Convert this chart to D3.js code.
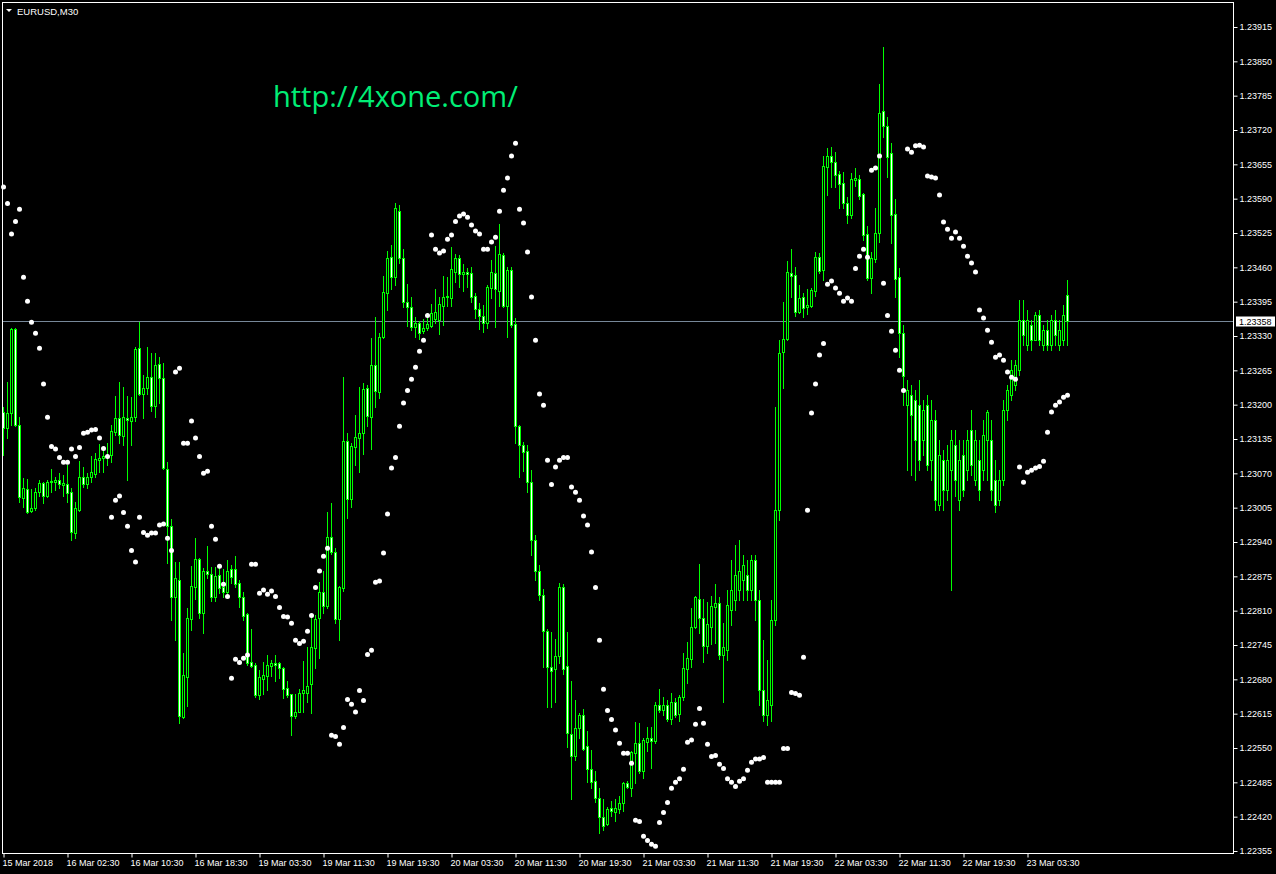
<!DOCTYPE html>
<html>
<head>
<meta charset="utf-8">
<script src="https://cdn.jsdelivr.net/npm/d3@7"></script>
<style>
  html, body { margin: 0; padding: 0; background: #000; }
  svg { display: block; }
</style>
</head>
<body>
<div id="wrapper"></div>
<script>
// EURUSD M30, one value per bar (bar 0 = 15 Mar 2018)
const open = [
  1.23186,1.23155,1.23184,1.23343,1.23161,1.23023,1.23040,1.22998,1.23004,1.23034,
  1.23051,1.23028,1.23053,1.23053,1.23057,1.23047,1.23049,1.23034,1.22957,1.23000,
  1.23063,1.23049,1.23063,1.23068,1.23095,1.23099,1.23100,1.23104,1.23148,1.23174,
  1.23140,1.23174,1.23169,1.23176,1.23307,1.23220,1.23231,1.23252,1.23197,1.23277,
  1.23250,1.23078,1.22970,1.22835,1.22868,1.22608,1.22684,1.22794,1.22854,1.22907,
  1.22805,1.22885,1.22879,1.22835,1.22877,1.22854,1.22845,1.22888,1.22888,1.22862,
  1.22835,1.22803,1.22712,1.22708,1.22650,1.22680,1.22686,1.22705,1.22710,1.22710,
  1.22701,1.22663,1.22652,1.22610,1.22619,1.22655,1.22655,1.22671,1.22739,1.22796,
  1.22845,1.22818,1.22949,1.22921,1.22794,1.22852,1.23131,1.23021,1.23119,1.23137,
  1.23146,1.23231,1.23176,1.23275,1.23224,1.23328,1.23411,1.23479,1.23441,1.23566,
  1.23477,1.23394,1.23385,1.23347,1.23354,1.23339,1.23345,1.23349,1.23362,1.23360,
  1.23387,1.23404,1.23402,1.23451,1.23477,1.23447,1.23451,1.23449,1.23405,1.23381,
  1.23368,1.23354,1.23421,1.23449,1.23415,1.23483,1.23387,1.23455,1.23352,1.23159,
  1.23123,1.23112,1.23053,1.22943,1.22886,1.22839,1.22771,1.22703,1.22699,1.22724,
  1.22854,1.22705,1.22576,1.22534,1.22587,1.22612,1.22553,1.22510,1.22487,1.22455,
  1.22419,1.22407,1.22436,1.22428,1.22434,1.22445,1.22483,1.22475,1.22540,1.22559,
  1.22506,1.22561,1.22568,1.22563,1.22631,1.22621,1.22631,1.22604,1.22638,1.22614,
  1.22646,1.22699,1.22718,1.22779,1.22833,1.22796,1.22744,1.22779,1.22816,1.22824,
  1.22726,1.22735,1.22811,1.22830,1.22849,1.22868,1.22877,1.22849,1.22905,1.22830,
  1.22659,1.22612,1.22631,1.22792,1.23000,1.23299,1.23324,1.23449,1.23445,1.23375,
  1.23404,1.23385,1.23387,1.23415,1.23479,1.23455,1.23650,1.23671,1.23659,1.23636,
  1.23619,1.23581,1.23559,1.23625,1.23627,1.23599,1.23523,1.23440,1.23476,1.23525,
  1.23756,1.23727,1.23676,1.23561,1.23441,1.23335,1.23199,1.23218,1.23208,1.23199,
  1.23133,1.23199,1.23095,1.23171,1.23010,1.23095,1.23038,1.23076,1.23123,1.23019,
  1.23104,1.23076,1.23152,1.23057,1.23095,1.23076,1.23133,1.23133,1.23057,1.23019,
  1.23057,1.23190,1.23218,1.23237,1.23265,1.23360,1.23313,1.23351,1.23322,1.23369,
  1.23313,1.23341,1.23313,1.23360,1.23313,1.23322,1.23407
]
const high = [
  1.23195,1.23243,1.23345,1.23345,1.23176,1.23061,1.23059,1.23040,1.23042,1.23057,
  1.23053,1.23057,1.23078,1.23064,1.23070,1.23066,1.23085,1.23042,1.23015,1.23093,
  1.23082,1.23070,1.23102,1.23108,1.23125,1.23114,1.23127,1.23161,1.23216,1.23243,
  1.23233,1.23216,1.23214,1.23309,1.23356,1.23256,1.23309,1.23297,1.23297,1.23290,
  1.23278,1.23091,1.22983,1.22902,1.22902,1.22729,1.22815,1.22894,1.22947,1.22909,
  1.22890,1.22932,1.22892,1.22892,1.22894,1.22888,1.22905,1.22896,1.22913,1.22869,
  1.22845,1.22805,1.22775,1.22710,1.22697,1.22712,1.22726,1.22716,1.22727,1.22712,
  1.22703,1.22676,1.22653,1.22653,1.22661,1.22714,1.22741,1.22796,1.22801,1.22864,
  1.22886,1.22996,1.23013,1.22928,1.22856,1.23252,1.23146,1.23127,1.23180,1.23233,
  1.23241,1.23237,1.23326,1.23366,1.23335,1.23443,1.23491,1.23502,1.23581,1.23578,
  1.23494,1.23428,1.23404,1.23366,1.23358,1.23362,1.23373,1.23390,1.23419,1.23404,
  1.23443,1.23441,1.23498,1.23485,1.23483,1.23466,1.23458,1.23460,1.23411,1.23392,
  1.23388,1.23426,1.23474,1.23500,1.23542,1.23487,1.23460,1.23460,1.23364,1.23161,
  1.23129,1.23123,1.23076,1.22953,1.22896,1.22851,1.22775,1.22769,1.22756,1.22862,
  1.22860,1.22769,1.22676,1.22640,1.22616,1.22623,1.22582,1.22547,1.22506,1.22475,
  1.22453,1.22438,1.22449,1.22453,1.22459,1.22485,1.22487,1.22544,1.22599,1.22597,
  1.22568,1.22589,1.22589,1.22637,1.22661,1.22646,1.22640,1.22655,1.22644,1.22650,
  1.22729,1.22750,1.22815,1.22837,1.22898,1.22833,1.22826,1.22837,1.22860,1.22835,
  1.22786,1.22849,1.22905,1.22934,1.22943,1.22915,1.22905,1.22915,1.22915,1.22849,
  1.22754,1.22716,1.22830,1.23195,1.23322,1.23394,1.23472,1.23494,1.23460,1.23426,
  1.23411,1.23419,1.23421,1.23489,1.23487,1.23671,1.23686,1.23688,1.23678,1.23642,
  1.23640,1.23593,1.23638,1.23648,1.23635,1.23600,1.23538,1.23489,1.23572,1.23807,
  1.23877,1.23744,1.23695,1.23589,1.23458,1.23351,1.23246,1.23237,1.23227,1.23246,
  1.23208,1.23218,1.23208,1.23190,1.23133,1.23114,1.23123,1.23152,1.23152,1.23133,
  1.23133,1.23152,1.23190,1.23152,1.23133,1.23171,1.23190,1.23171,1.23095,1.23076,
  1.23208,1.23237,1.23284,1.23284,1.23398,1.23398,1.23379,1.23360,1.23375,1.23379,
  1.23351,1.23360,1.23369,1.23379,1.23360,1.23388,1.23436
]
const low = [
  1.23104,1.23137,1.23161,1.23159,1.23015,1.23006,1.22994,1.22996,1.23000,1.23028,
  1.23013,1.23025,1.23034,1.23038,1.23042,1.23027,1.23015,1.22943,1.22947,1.22998,
  1.23044,1.23042,1.23053,1.23064,1.23072,1.23072,1.23085,1.23091,1.23142,1.23127,
  1.23123,1.23057,1.23123,1.23169,1.23218,1.23174,1.23220,1.23188,1.23176,1.23203,
  1.23078,1.22900,1.22792,1.22754,1.22597,1.22606,1.22629,1.22773,1.22833,1.22796,
  1.22767,1.22871,1.22828,1.22828,1.22843,1.22835,1.22843,1.22862,1.22854,1.22816,
  1.22792,1.22707,1.22703,1.22646,1.22642,1.22653,1.22659,1.22686,1.22676,1.22682,
  1.22644,1.22646,1.22574,1.22606,1.22618,1.22619,1.22637,1.22616,1.22701,1.22720,
  1.22805,1.22815,1.22917,1.22786,1.22754,1.22847,1.22985,1.23006,1.23085,1.23072,
  1.23106,1.23159,1.23117,1.23195,1.23212,1.23326,1.23379,1.23419,1.23426,1.23468,
  1.23385,1.23349,1.23341,1.23328,1.23324,1.23335,1.23341,1.23347,1.23354,1.23333,
  1.23351,1.23387,1.23387,1.23432,1.23422,1.23415,1.23422,1.23394,1.23364,1.23343,
  1.23337,1.23345,1.23402,1.23347,1.23387,1.23385,1.23328,1.23347,1.23127,1.23064,
  1.23074,1.23034,1.22915,1.22868,1.22830,1.22703,1.22627,1.22627,1.22637,1.22710,
  1.22691,1.22551,1.22453,1.22527,1.22568,1.22547,1.22485,1.22475,1.22447,1.22390,
  1.22394,1.22405,1.22421,1.22411,1.22426,1.22430,1.22475,1.22459,1.22483,1.22502,
  1.22494,1.22544,1.22513,1.22559,1.22618,1.22612,1.22602,1.22595,1.22608,1.22602,
  1.22640,1.22674,1.22703,1.22777,1.22767,1.22712,1.22729,1.22746,1.22748,1.22718,
  1.22638,1.22716,1.22782,1.22811,1.22830,1.22830,1.22830,1.22830,1.22792,1.22631,
  1.22602,1.22593,1.22602,1.22782,1.22981,1.23231,1.23322,1.23404,1.23368,1.23373,
  1.23366,1.23371,1.23385,1.23405,1.23449,1.23436,1.23597,1.23612,1.23612,1.23572,
  1.23572,1.23544,1.23553,1.23614,1.23589,1.23512,1.23436,1.23411,1.23470,1.23508,
  1.23706,1.23631,1.23506,1.23404,1.23290,1.23199,1.23076,1.23066,1.23057,1.23076,
  1.23104,1.23076,1.23057,1.23000,1.23000,1.23000,1.23019,1.22849,1.23028,1.23000,
  1.23028,1.23057,1.23066,1.23047,1.23019,1.23057,1.23057,1.23019,1.22996,1.23010,
  1.23047,1.23171,1.23208,1.23227,1.23256,1.23313,1.23303,1.23303,1.23322,1.23313,
  1.23303,1.23303,1.23303,1.23313,1.23303,1.23313,1.23313
]
const close = [
  1.23155,1.23184,1.23343,1.23161,1.23025,1.23042,1.22996,1.23004,1.23034,1.23051,
  1.23028,1.23053,1.23055,1.23057,1.23049,1.23051,1.23032,1.22958,1.23004,1.23063,
  1.23049,1.23063,1.23072,1.23097,1.23099,1.23102,1.23104,1.23150,1.23174,1.23142,
  1.23176,1.23171,1.23176,1.23305,1.23220,1.23231,1.23252,1.23197,1.23275,1.23250,
  1.23080,1.22970,1.22835,1.22871,1.22610,1.22688,1.22796,1.22856,1.22907,1.22805,
  1.22886,1.22879,1.22835,1.22875,1.22852,1.22845,1.22885,1.22873,1.22860,1.22835,
  1.22799,1.22710,1.22705,1.22650,1.22684,1.22688,1.22707,1.22710,1.22708,1.22701,
  1.22661,1.22650,1.22610,1.22619,1.22655,1.22659,1.22667,1.22741,1.22794,1.22845,
  1.22818,1.22949,1.22921,1.22794,1.22854,1.23131,1.23021,1.23121,1.23138,1.23146,
  1.23229,1.23178,1.23275,1.23226,1.23328,1.23413,1.23477,1.23441,1.23572,1.23477,
  1.23394,1.23385,1.23347,1.23354,1.23335,1.23345,1.23352,1.23373,1.23375,1.23390,
  1.23404,1.23405,1.23457,1.23477,1.23447,1.23451,1.23447,1.23404,1.23381,1.23368,
  1.23354,1.23422,1.23451,1.23419,1.23485,1.23387,1.23455,1.23351,1.23159,1.23123,
  1.23110,1.23053,1.22943,1.22886,1.22839,1.22771,1.22703,1.22695,1.22724,1.22854,
  1.22699,1.22578,1.22534,1.22587,1.22612,1.22549,1.22510,1.22485,1.22455,1.22419,
  1.22402,1.22434,1.22430,1.22436,1.22445,1.22483,1.22477,1.22542,1.22559,1.22506,
  1.22566,1.22568,1.22563,1.22631,1.22621,1.22631,1.22604,1.22637,1.22612,1.22646,
  1.22701,1.22720,1.22780,1.22835,1.22796,1.22744,1.22784,1.22818,1.22824,1.22726,
  1.22741,1.22820,1.22849,1.22877,1.22886,1.22896,1.22849,1.22905,1.22830,1.22659,
  1.22612,1.22640,1.22792,1.23000,1.23297,1.23324,1.23451,1.23443,1.23375,1.23402,
  1.23383,1.23388,1.23417,1.23479,1.23453,1.23652,1.23671,1.23659,1.23635,1.23618,
  1.23581,1.23559,1.23627,1.23629,1.23595,1.23521,1.23440,1.23477,1.23525,1.23752,
  1.23727,1.23669,1.23559,1.23438,1.23335,1.23254,1.23227,1.23180,1.23133,1.23095,
  1.23190,1.23085,1.23171,1.23019,1.23104,1.23038,1.23095,1.23133,1.23057,1.23095,
  1.23038,1.23133,1.23085,1.23133,1.23038,1.23142,1.23186,1.23038,1.23010,1.23057,
  1.23190,1.23227,1.23265,1.23275,1.23360,1.23332,1.23360,1.23322,1.23369,1.23322,
  1.23341,1.23313,1.23360,1.23332,1.23341,1.23369,1.23358
]
// Parabolic SAR dots
const sar = [
  1.23612,1.23581,1.23523,1.23547,1.23570,1.23441,1.23396,1.23356,1.23335,1.23307,
  1.23239,1.23176,1.23121,1.23116,1.23100,1.23091,1.23091,1.23116,1.23102,1.23119,
  1.23146,1.23148,1.23152,1.23153,1.23137,1.23117,1.23102,1.22987,1.23019,1.23027,
  1.22996,1.22970,1.22924,1.22902,1.22987,1.22958,1.22953,1.22957,1.22957,1.22972,
  1.22974,1.22947,1.22924,1.23262,1.23269,1.23127,1.23127,1.23169,1.23137,1.23102,
  1.23070,1.23074,1.22970,1.22945,1.22894,1.22860,1.22837,1.22682,1.22718,1.22712,
  1.22720,1.22726,1.22898,1.22898,1.22843,1.22849,1.22841,1.22847,1.22837,1.22816,
  1.22799,1.22798,1.22786,1.22754,1.22748,1.22752,1.22771,1.22801,1.22854,1.22885,
  1.22913,1.22928,1.22574,1.22572,1.22557,1.22589,1.22642,1.22633,1.22618,1.22659,
  1.22640,1.22727,1.22735,1.22864,1.22866,1.22919,1.22993,1.23080,1.23100,1.23159,
  1.23203,1.23227,1.23248,1.23271,1.23301,1.23322,1.23369,1.23521,1.23494,1.23487,
  1.23491,1.23513,1.23521,1.23547,1.23557,1.23561,1.23555,1.23540,1.23529,1.23523,
  1.23494,1.23494,1.23508,1.23517,1.23566,1.23606,1.23629,1.23671,1.23695,1.23570,
  1.23544,1.23489,1.23404,1.23322,1.23220,1.23199,1.23095,1.23049,1.23082,1.23095,
  1.23100,1.23100,1.23044,1.23034,1.23019,1.22989,1.22972,1.22921,1.22854,1.22754,
  1.22661,1.22621,1.22604,1.22584,1.22559,1.22540,1.22540,1.22521,1.22413,1.22411,
  1.22383,1.22375,1.22368,1.22364,1.22409,1.22428,1.22447,1.22474,1.22485,1.22492,
  1.22510,1.22561,1.22565,1.22595,1.22625,1.22597,1.22557,1.22534,1.22536,1.22519,
  1.22511,1.22492,1.22485,1.22477,1.22487,1.22492,1.22508,1.22523,1.22529,1.22529,
  1.22532,1.22485,1.22485,1.22485,1.22485,1.22549,1.22549,1.22655,1.22653,1.22650,
  1.22722,1.23000,1.23184,1.23239,1.23294,1.23316,1.23428,1.23434,1.23421,1.23411,
  1.23396,1.23402,1.23396,1.23458,1.23481,1.23494,1.23479,1.23644,1.23648,1.23671,
  1.23430,1.23369,1.23339,1.23303,1.23265,1.23227,1.23684,1.23678,1.23690,1.23691,
  1.23688,1.23633,1.23631,1.23629,1.23597,1.23546,1.23532,1.23515,1.23527,1.23515,
  1.23500,1.23481,1.23468,1.23451,1.23379,1.23364,1.23341,1.23318,1.23290,1.23294,
  1.23284,1.23262,1.23252,1.23248,1.23082,1.23053,1.23072,1.23076,1.23080,1.23083,
  1.23093,1.23148,1.23186,1.23199,1.23205,1.23214,1.23218
]

const timeLabels = [
  '15 Mar 2018', '16 Mar 02:30', '16 Mar 10:30', '16 Mar 18:30', '19 Mar 03:30',
  '19 Mar 11:30', '19 Mar 19:30', '20 Mar 03:30', '20 Mar 11:30', '20 Mar 19:30',
  '21 Mar 03:30', '21 Mar 11:30', '21 Mar 19:30', '22 Mar 03:30', '22 Mar 11:30',
  '22 Mar 19:30', '23 Mar 03:30'
]
const barsPerLabel = 16
const priceTicks = [
  1.22355, 1.22420, 1.22485, 1.22550, 1.22615, 1.22680, 1.22745, 1.22810, 1.22875,
  1.22940, 1.23005, 1.23070, 1.23135, 1.23200, 1.23265, 1.23330, 1.23395, 1.23460,
  1.23525, 1.23590, 1.23655, 1.23720, 1.23785, 1.23850, 1.23915
]
const bidPrice = 1.23358
const symbol = 'EURUSD,M30'
const watermark = 'http://4xone.com/'

const width = 1276
const height = 874
const frame = { left: 2, top: 2, right: 1233, bottom: 853 }
const candleColor = '#00ff00'
const axisFont = '"Liberation Sans", Arial, sans-serif'

const wrapper = d3.select('#wrapper')
  .append('svg')
  .attr('width', width)
  .attr('height', height)
  .style('background', '#000')

// one bar = 4px, bar 0 sits right next to the left border
const xScale = d3.scaleLinear().domain([-0.25, 307.5]).range([frame.left, frame.right])
const yScale = d3.scaleLinear().domain([1.22355, 1.23915]).range([851, 27])
const px = (v) => Math.round(v) + 0.5

const bars = close.map((c, i) => ({ i, o: open[i], h: high[i], l: low[i], c, s: sar[i] }))

// bid line
wrapper.append('line')
  .attr('x1', frame.left).attr('x2', frame.right)
  .attr('y1', px(yScale(bidPrice))).attr('y2', px(yScale(bidPrice)))
  .attr('stroke', '#778899')

// candles
const candles = wrapper.append('g').attr('class', 'candles')
candles.selectAll('line')
  .data(bars)
  .join('line')
  .attr('x1', (d) => px(xScale(d.i)))
  .attr('x2', (d) => px(xScale(d.i)))
  .attr('y1', (d) => Math.round(yScale(d.h)))
  .attr('y2', (d) => Math.round(yScale(d.l)) + 1)
  .attr('stroke', candleColor)

candles.selectAll('rect')
  .data(bars)
  .join('rect')
  .attr('x', (d) => Math.round(xScale(d.i)) - 0.5)
  .attr('y', (d) => Math.round(yScale(Math.max(d.o, d.c))) + 0.5)
  .attr('width', 2)
  .attr('height', (d) =>
    Math.max(0, Math.round(yScale(Math.min(d.o, d.c))) - Math.round(yScale(Math.max(d.o, d.c)))),
  )
  .attr('fill', (d) => (d.c >= d.o ? '#000' : '#fff'))
  .attr('stroke', candleColor)

// parabolic SAR
wrapper.append('g')
  .selectAll('circle')
  .data(bars)
  .join('circle')
  .attr('cx', (d) => px(xScale(d.i)))
  .attr('cy', (d) => yScale(d.s))
  .attr('r', 2.5)
  .attr('fill', '#fff')

// frame
wrapper.append('rect')
  .attr('x', frame.left + 0.5).attr('y', frame.top + 0.5)
  .attr('width', frame.right - frame.left).attr('height', frame.bottom - frame.top)
  .attr('fill', 'none')
  .attr('stroke', '#fff')

// price axis
const yAxis = wrapper.append('g')
  .attr('transform', `translate(${frame.right + 0.5},0)`)
  .call(d3.axisRight(yScale).tickValues(priceTicks).tickFormat(d3.format('.5f')).tickSize(4).tickPadding(2))
// time axis
const xAxis = wrapper.append('g')
  .attr('transform', `translate(0,${frame.bottom + 0.5})`)
  .call(
    d3.axisBottom(xScale)
      .tickValues(timeLabels.map((d, i) => i * barsPerLabel))
      .tickFormat((d, i) => timeLabels[i])
      .tickSize(4)
      .tickPadding(2),
  )
xAxis.selectAll('.tick line').attr('transform', 'translate(0.5,0)')
xAxis.selectAll('.tick text').attr('text-anchor', 'start').attr('dx', -1)

for (const axis of [xAxis, yAxis]) {
  axis.select('.domain').remove()
  axis.selectAll('.tick line').attr('stroke', '#fff')
  axis.selectAll('.tick text').attr('fill', '#fff').style('font-family', axisFont).style('font-size', '9px')
}

// bid price label
const bidY = px(yScale(bidPrice))
wrapper.append('rect')
  .attr('x', 1236).attr('y', bidY - 5)
  .attr('width', 39).attr('height', 10)
  .attr('fill', '#fff')
wrapper.append('text')
  .attr('x', 1239).attr('y', bidY + 3.5)
  .style('font-family', axisFont).style('font-size', '9px')
  .attr('fill', '#000')
  .text(d3.format('.5f')(bidPrice))

// title
wrapper.append('path')
  .attr('d', 'M6,9 L12,9 L9,12 Z')
  .attr('fill', '#fff')
wrapper.append('text')
  .attr('x', 17).attr('y', 14.5)
  .style('font-family', axisFont).style('font-size', '9.5px')
  .attr('fill', '#fff')
  .text(symbol)

// watermark text
wrapper.append('text')
  .attr('x', 273).attr('y', 107)
  .style('font-family', '"Open Sans", sans-serif').style('font-size', '29px')
  .attr('fill', '#00ee76')
  .text(watermark)
</script>
</body>
</html>
